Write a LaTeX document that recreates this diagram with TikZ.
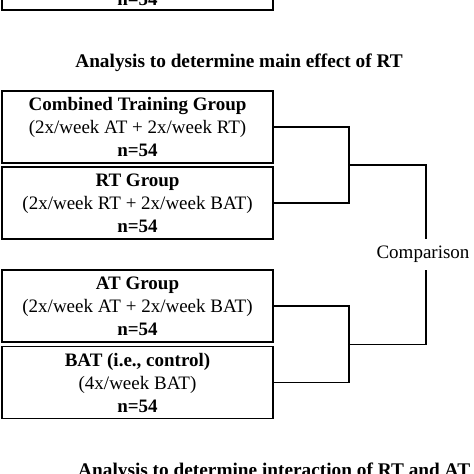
\documentclass[tikz,border=0pt]{standalone}
\usepackage{fontspec}
\setmainfont{Liberation Serif}
\begin{document}
\begin{tikzpicture}[x=1pt,y=-1pt,
  grp/.style={draw, line width=1.6pt, minimum width=271pt, minimum height=72pt, inner sep=0pt, align=center, font=\fontsize{19}{23}\selectfont},
  ttl/.style={font=\bfseries\fontsize{19.3}{23}\selectfont, inner sep=0pt},
  conn/.style={line width=1.4pt}]
\useasboundingbox (0,0) rectangle (474,474);
\clip (0,0) rectangle (474,474);
% partial top box
\node[grp] (b0) at (137.5,-26) {};
\node[font=\bfseries\fontsize{19}{23}\selectfont, inner sep=0pt] (n0) at (137.5,-1) {n=54};
\node[ttl, anchor=base] (t1) at (239,67) {Analysis to determine main effect of RT};
\node[grp] (b1) at (137.5,127) {\textbf{Combined Training Group}\\(2x/week AT + 2x/week RT)\\\textbf{n=54}};
\node[grp] (b2) at (137.5,203) {\textbf{RT Group}\\(2x/week RT + 2x/week BAT)\\\textbf{n=54}};
\node[grp] (b3) at (137.5,306) {\textbf{AT Group}\\(2x/week AT + 2x/week BAT)\\\textbf{n=54}};
\node[grp] (b4) at (137.5,382.5) {\textbf{BAT (i.e., control)}\\(4x/week BAT)\\\textbf{n=54}};
\node[font=\fontsize{19}{23}\selectfont, minimum height=31pt, inner sep=0pt] (cmp) at (423,254.5) {Comparison};
\coordinate (j1) at (349,165);
\coordinate (j2) at (349,344.5);
\draw[conn] (b1.east) -| (j1) |- (b2.east);
\draw[conn] (b3.east) -| (j2) |- (b4.east);
\draw[conn] (j1) -| ([xshift=3pt]cmp.north);
\draw[conn] (j2) -| ([xshift=3pt]cmp.south);
\node[ttl, anchor=base west] (t2) at (78,476) {Analysis to determine interaction of RT and AT};
\end{tikzpicture}
\end{document}
